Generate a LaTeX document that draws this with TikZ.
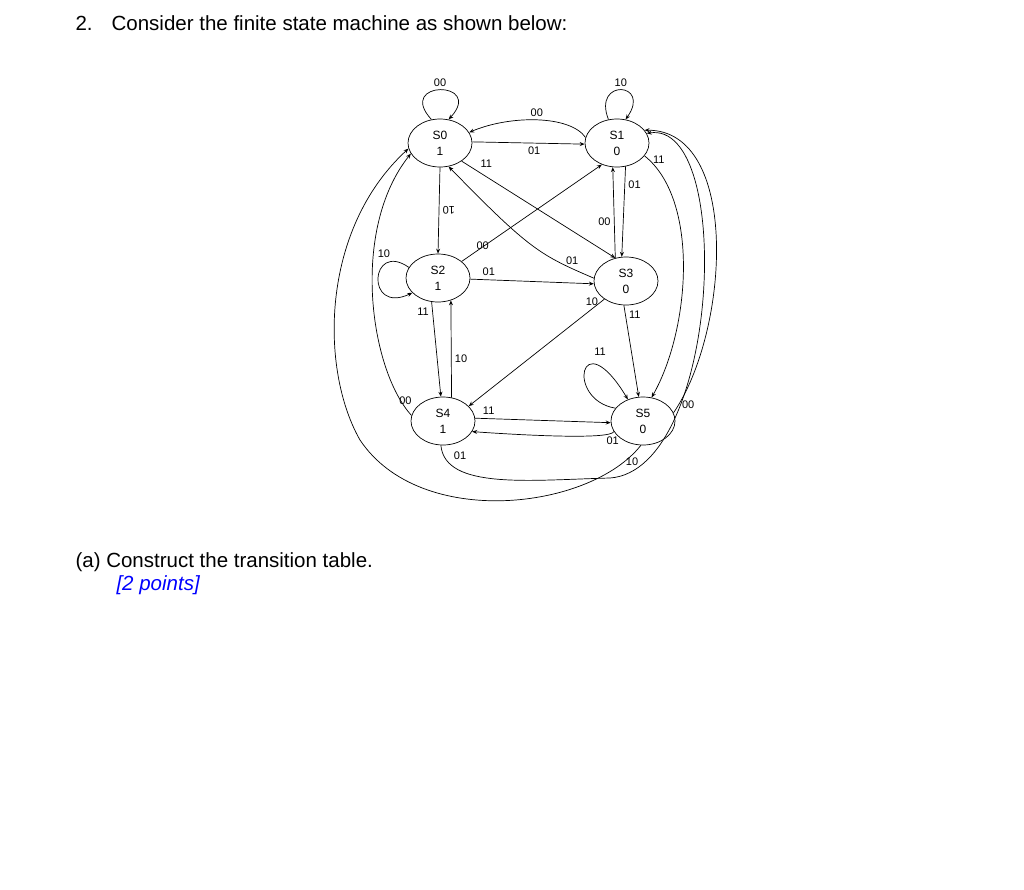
\documentclass[tikz,border=0pt]{standalone}
\usepackage{fontspec}
\setmainfont{Liberation Sans}
\usetikzlibrary{arrows.meta,shapes.geometric}
\begin{document}
\begin{tikzpicture}[x=1pt,y=-1pt,
  st/.style={draw,ellipse,minimum width=64pt,minimum height=48pt,inner sep=0pt,align=center,font=\fontsize{12}{16}\selectfont,line width=0.7pt},
  tr/.style={-{Stealth[length=5pt,width=4pt,open]},line width=0.7pt},
  lb/.style={font=\fontsize{11}{11}\selectfont}]
\useasboundingbox (0,0) rectangle (1024,889);
\node[anchor=west,font=\fontsize{20.5}{24}\selectfont] (t1) at (72,23) {2.\hspace{19pt}Consider the finite state machine as shown below:};
\node[anchor=west,font=\fontsize{20.5}{24}\selectfont] (t2) at (72,562) {(a)\ Construct the transition table.};
\node[anchor=west,font=\fontsize{20.5}{24}\selectfont\itshape,text=blue] (t3) at (113,585) {[2 points]};
\node[st] (s0) at (440,143) {S0\\1};
\node[st] (s1) at (617,143) {S1\\0};
\node[st] (s2) at (438,278) {S2\\1};
\node[st] (s3) at (626,281) {S3\\0};
\node[st] (s4) at (443,421) {S4\\1};
\node[st] (s5) at (643,421) {S5\\0};
% self loops
\draw[tr] (s0.110) .. controls (395,80) and (485,80) .. (s0.70) node[lb,pos=0.5,above] {00};
\draw[tr] (s1.110) .. controls (592,78) and (652,82) .. (s1.70) node[lb,pos=0.5,above] {10};
\draw[tr] (s2.160) .. controls (370,240) and (365,315) .. (s2.210) node[lb,pos=0.15,above left] {10};
\draw[tr] (s5.155) .. controls (565,400) and (580,320) .. (s5.125);
\node[lb] (l11) at (600,352) {11};
% S0 S1
\draw[tr] (s1.170) .. controls (570,115) and (510,115) .. (s0.20) node[lb,pos=0.5,above] {00};
\draw[tr] (s0.2) -- (s1.182) node[lb,pos=0.55,below] {01};
\draw[tr] (s0.-40) -- (s3.115) node[lb,pos=0.1,above right] {11};
\draw[tr] (s3.175) .. controls (540,255) and (530,250) .. (s0.-70) node[lb,pos=0.15,above] {01};
\draw[tr] (s0.-90) -- (s2.90) node[lb,pos=0.5,left,rotate=180] {10};
\draw[tr] (s2.35) -- (s1.-125) node[lb,pos=0.08,above right] {00};
\draw[tr] (s2.-2) -- (s3.185) node[lb,pos=0.07,above right] {01};
\draw[tr] (s1.-70) -- (s3.100) node[lb,pos=0.2,right] {01};
\draw[tr] (s3.115) -- (s1.-100) node[lb,pos=0.4,left] {00};
\draw[tr] (s1.-25) .. controls (700,200) and (690,330) .. (s5.70) node[lb,pos=0.03,right] {11};
\draw[tr] (s3.-95) -- (s5.100) node[lb,pos=0.1,right] {11};
\draw[tr] (s3.-140) -- (s4.30) node[lb,pos=0.02,left] {10};
\draw[tr] (s2.-105) -- (s4.95) node[lb,pos=0.1,left] {11};
\draw[tr] (s4.70) -- (s2.-60) node[lb,pos=0.4,right] {10};
\draw[tr] (s4.5) -- (s5.183) node[lb,pos=0.1,above] {11};
\draw[tr] (s5.-160) .. controls (610,440) and (520,435) .. (s4.-20) node[lb,pos=0.05,below] {01};
\draw[tr] (s4.170) .. controls (370,370) and (350,230) .. (s0.200) node[lb,pos=0.05,above] {00};
\draw[tr] (s5.-95) .. controls (590,510) and (420,530) .. (360,440) .. controls (320,370) and (320,230) .. (s0.190);
\node[lb] (l10) at (632,462) {10};
\draw[tr] (s5.15) .. controls (730,330) and (740,130) .. (s1.25) node[lb,pos=0.03,right] {00};
\draw[tr] (s4.-95) .. controls (445,490) and (530,480) .. (610,478) .. controls (720,470) and (735,120) .. (s1.18);
\node[lb] (l01) at (460,456) {01};
\end{tikzpicture}
\end{document}
